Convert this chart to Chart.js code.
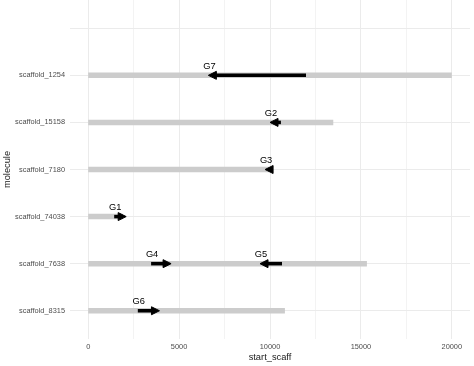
<!DOCTYPE html>
<html>
<head>
<meta charset="utf-8">
<script src="https://cdn.jsdelivr.net/npm/chart.js@4.4.0/dist/chart.umd.min.js"></script>
<style>
  body { margin: 0; background: #fff; }
  #wrap { width: 474px; height: 366px; }
</style>
</head>
<body>
<div id="wrap"><canvas id="geneChart"></canvas></div>
<script>
// scaffolds, bottom to top (top row is an empty level)
const molecules = ["scaffold_8315", "scaffold_7638", "scaffold_74038", "scaffold_7180", "scaffold_15158", "scaffold_1254", ""];
const scaffoldLength = [10820, 15330, 1900, 10000, 13480, 20000];

// genes, drawn as arrows from start to end
const genes = ["G1", "G2", "G3", "G4", "G5", "G6", "G7"];
const geneMolecule = ["scaffold_74038", "scaffold_15158", "scaffold_7180", "scaffold_7638", "scaffold_7638", "scaffold_8315", "scaffold_1254"];
const geneStart = [1430, 10600, 10130, 3460, 10660, 2730, 11980];
const geneEnd = [2090, 10000, 9730, 4560, 9450, 3920, 6610];

const xTicks = [0, 2500, 5000, 7500, 10000, 12500, 15000, 17500, 20000];

const FONT = 'Liberation Sans';

// arrows + gene labels
const geneArrows = {
    id: 'geneArrows',
    afterDatasetsDraw(chart) {
        const ctx = chart.ctx;
        const xs = chart.scales.x, ys = chart.scales.y;
        ctx.save();
        genes.forEach((name, i) => {
            const y = ys.getPixelForValue(molecules.indexOf(geneMolecule[i]) + 1);
            const x0 = xs.getPixelForValue(geneStart[i]);
            const x1 = xs.getPixelForValue(geneEnd[i]);
            const dir = x1 > x0 ? 1 : -1;
            const head = 8;
            ctx.strokeStyle = '#000';
            ctx.fillStyle = '#000';
            ctx.lineWidth = 3.5;
            ctx.lineCap = 'butt';
            ctx.beginPath();
            ctx.moveTo(x0, y);
            ctx.lineTo(x1 - dir * head * 0.8, y);
            ctx.stroke();
            ctx.lineWidth = 1;
            ctx.lineJoin = 'round';
            ctx.beginPath();
            ctx.moveTo(x1, y);
            ctx.lineTo(x1 - dir * head, y - 4);
            ctx.lineTo(x1 - dir * head, y + 4);
            ctx.closePath();
            ctx.fill();
            ctx.stroke();
            ctx.font = '9.3px "' + FONT + '"';
            ctx.textAlign = 'center';
            ctx.textBaseline = 'middle';
            ctx.fillText(name, xs.getPixelForValue(Math.min(geneStart[i], geneEnd[i])) + 1, y - 9);
        });
        ctx.restore();
    }
};

new Chart(document.getElementById('geneChart'), {
    type: 'scatter',
    data: {
        datasets: scaffoldLength.map((len, i) => ({
            data: [{ x: 0, y: i + 1 }, { x: len, y: i + 1 }],
            showLine: true,
            borderColor: '#cccccc',
            borderWidth: 5.5,
            borderCapStyle: 'butt',
            pointRadius: 0
        }))
    },
    options: {
        responsive: true,
        maintainAspectRatio: false,
        animation: false,
        layout: { padding: { right: 4, top: 0, left: 0, bottom: 0 } },
        plugins: { legend: { display: false }, tooltip: { enabled: false } },
        scales: {
            x: {
                type: 'linear',
                min: -1000,
                max: 21000,
                afterBuildTicks: s => { s.ticks = xTicks.map(v => ({ value: v })); },
                afterFit: s => { s.height = 27; s.paddingLeft = 0; s.paddingRight = 0; },
                ticks: {
                    callback: v => v % 5000 === 0 ? String(v) : '',
                    color: '#4d4d4d',
                    font: { family: FONT, size: 7.4 },
                    padding: 4,
                    maxRotation: 0,
                    autoSkip: false
                },
                grid: {
                    color: c => (c.tick && c.tick.value % 5000 === 0) ? '#ebebeb' : '#f3f3f3',
                    lineWidth: 1,
                    drawTicks: false
                },
                border: { display: false },
                title: {
                    display: true,
                    text: 'start_scaff',
                    color: '#1a1a1a',
                    font: { family: FONT, size: 9.3 },
                    padding: { top: 0, bottom: 3 }
                }
            },
            y: {
                type: 'linear',
                min: 0.4,
                max: 7.6,
                afterBuildTicks: s => { s.ticks = molecules.map((m, i) => ({ value: i + 1 })); },
                afterFit: s => { s.width = 70; s.paddingTop = 0; s.paddingBottom = 0; },
                ticks: {
                    callback: v => molecules[v - 1],
                    color: '#4d4d4d',
                    font: { family: FONT, size: 7.4 },
                    padding: 5,
                    autoSkip: false
                },
                grid: { color: '#ebebeb', lineWidth: 1, drawTicks: false },
                border: { display: false },
                title: {
                    display: true,
                    text: 'molecule',
                    color: '#1a1a1a',
                    font: { family: FONT, size: 9.3 },
                    padding: { top: 2, bottom: 0 }
                }
            }
        }
    },
    plugins: [geneArrows]
});
</script>
</body>
</html>
